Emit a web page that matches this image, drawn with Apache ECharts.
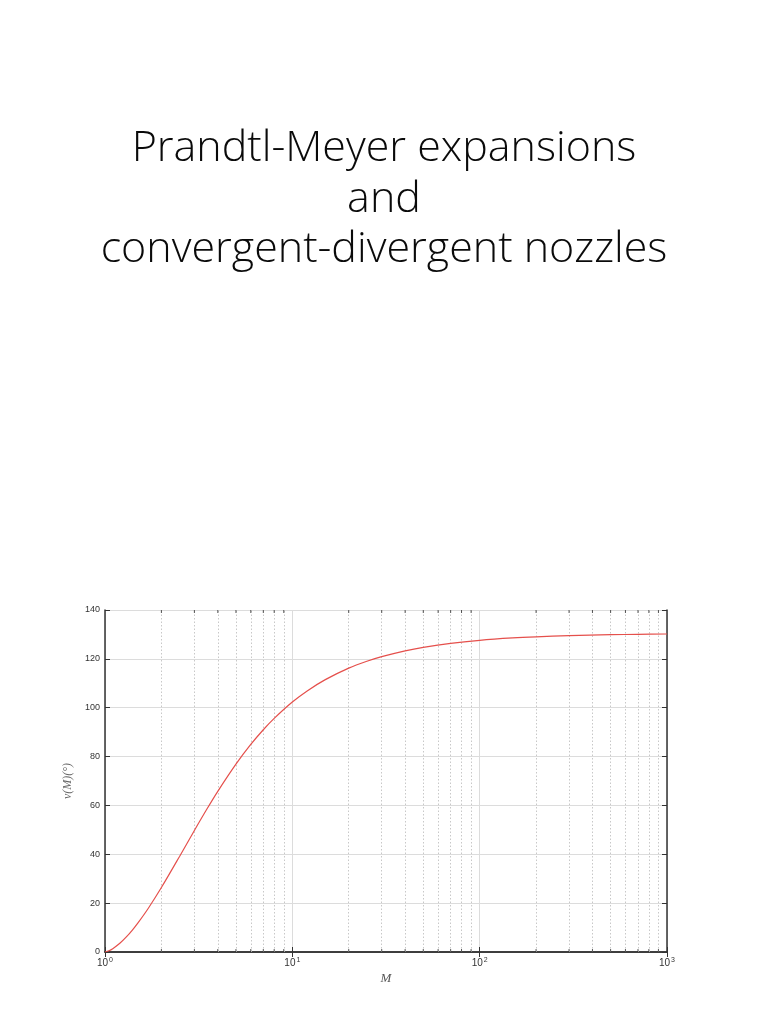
<!DOCTYPE html>
<html>
<head>
<meta charset="utf-8">
<script src="https://cdn.jsdelivr.net/npm/echarts@6/dist/echarts.min.js"></script>
<style>
html,body{margin:0;padding:0;background:#fff;}
#chart{width:768px;height:1024px;}
</style>
</head>
<body>
<div id="chart"></div>
<script>
// Mach number samples (x) and Prandtl-Meyer angle in degrees (y)
const machValues = [1, 1.05, 1.1, 1.2, 1.3, 1.4, 1.5, 1.7, 2, 2.5, 3, 3.5, 4, 5, 6, 7, 8, 10, 12, 15, 20, 25, 30, 40, 50, 70, 100, 150, 200, 300, 500, 700, 1000];
const nuValues = [0, 0.49, 1.34, 3.56, 6.17, 8.99, 11.91, 17.81, 26.38, 39.12, 49.76, 58.53, 65.78, 76.92, 84.96, 90.97, 95.62, 102.32, 106.88, 111.5, 116.2, 119.03, 120.92, 123.3, 124.73, 126.37, 127.59, 128.55, 129.02, 129.5, 129.88, 130.05, 130.17];
const minorGridX = [2, 3, 4, 5, 6, 7, 8, 9, 20, 30, 40, 50, 60, 70, 80, 90, 200, 300, 400, 500, 600, 700, 800, 900];
const yTicks = [0, 20, 40, 60, 80, 100, 120, 140];
const titleLines = ['Prandtl-Meyer expansions', 'and', 'convergent-divergent nozzles'];

const chart = echarts.init(document.getElementById('chart'), null, {renderer: 'canvas'});
const curve = machValues.map((m, i) => [m, nuValues[i]]);
const axisColor = '#333';
const gridColor = '#dcdcdc';
const titleTops = [127, 178, 228];

const option = {
  backgroundColor: '#fff',
  animation: false,
  graphic: titleLines.map((t, i) => ({
    type: 'text',
    x: 384,
    y: titleTops[i],
    style: {
      text: t,
      align: 'center',
      verticalAlign: 'top',
      fontFamily: '"Open Sans", Roboto, sans-serif',
      fontWeight: 300,
      fontSize: 43,
      fill: '#0a0a0a'
    }
  })),
  grid: {left: 105, top: 610, width: 562, height: 342, containLabel: false},
  xAxis: [{
    type: 'log', logBase: 10, min: 1, max: 1000,
    position: 'bottom',
    name: 'M',
    nameLocation: 'middle',
    nameGap: 20,
    nameTextStyle: {fontFamily: '"Liberation Serif", serif', fontStyle: 'italic', fontSize: 13, color: '#555'},
    axisLine: {show: true, lineStyle: {color: axisColor, width: 1.5}},
    axisTick: {show: true, inside: true, length: 5, lineStyle: {color: axisColor, width: 1}},
    axisLabel: {
      color: '#333', fontSize: 10, margin: 5,
      fontFamily: '"Liberation Sans", Arial, sans-serif',
      formatter: v => '10{s|' + Math.round(Math.log10(v)) + '}',
      rich: {s: {fontSize: 7, verticalAlign: 'top', padding: [0, 0, 6, 1], color: '#333'}}
    },
    splitLine: {show: true, lineStyle: {color: gridColor, width: 1}}
  }, {
    type: 'log', logBase: 10, min: 1, max: 1000,
    position: 'top',
    axisLine: {show: true, lineStyle: {color: axisColor, width: 1.5}},
    axisTick: {show: true, inside: true, length: 5, lineStyle: {color: axisColor, width: 1}},
    axisLabel: {show: false},
    splitLine: {show: false}
  }],
  yAxis: [{
    type: 'value', min: 0, max: 140, interval: 20,
    position: 'left',
    name: 'ν(M)(°)',
    nameLocation: 'middle',
    nameGap: 22,
    nameRotate: 90,
    nameTextStyle: {fontFamily: '"Liberation Serif", serif', fontStyle: 'italic', fontSize: 12, color: '#666'},
    axisLine: {show: true, lineStyle: {color: axisColor, width: 1.5}},
    axisTick: {show: true, inside: true, length: 5, lineStyle: {color: axisColor, width: 1}},
    axisLabel: {color: '#333', fontSize: 9, margin: 5, fontFamily: '"Liberation Sans", Arial, sans-serif',
      formatter: v => yTicks.includes(v) ? String(v) : ''},
    splitLine: {show: true, lineStyle: {color: gridColor, width: 1}}
  }, {
    type: 'value', min: 0, max: 140, interval: 20,
    position: 'right',
    axisLine: {show: true, lineStyle: {color: axisColor, width: 1.5}},
    axisTick: {show: true, inside: true, length: 5, lineStyle: {color: axisColor, width: 1}},
    axisLabel: {show: false},
    splitLine: {show: false}
  }],
  series: [{
    type: 'line',
    xAxisIndex: 0, yAxisIndex: 0,
    data: curve,
    smooth: 0.3,
    showSymbol: false,
    symbol: 'none',
    lineStyle: {color: '#e5504c', width: 1.2},
    z: 5,
    markLine: {
      silent: true,
      symbol: 'none',
      label: {show: false},
      lineStyle: {color: '#c8c8c8', type: [1.5, 2], width: 1},
      data: minorGridX.map(x => ({xAxis: x}))
    }
  }, {
    type: 'scatter',
    xAxisIndex: 0, yAxisIndex: 0,
    data: minorGridX.map(x => [x, 0]),
    symbol: 'rect',
    symbolSize: [1, 3],
    symbolOffset: [0, -1.5],
    itemStyle: {color: axisColor},
    silent: true,
    z: 6
  }, {
    type: 'scatter',
    xAxisIndex: 0, yAxisIndex: 0,
    data: minorGridX.map(x => [x, 140]),
    symbol: 'rect',
    symbolSize: [1, 3],
    symbolOffset: [0, 1.5],
    itemStyle: {color: axisColor},
    silent: true,
    z: 6
  }]
};
chart.setOption(option);
</script>
</body>
</html>
